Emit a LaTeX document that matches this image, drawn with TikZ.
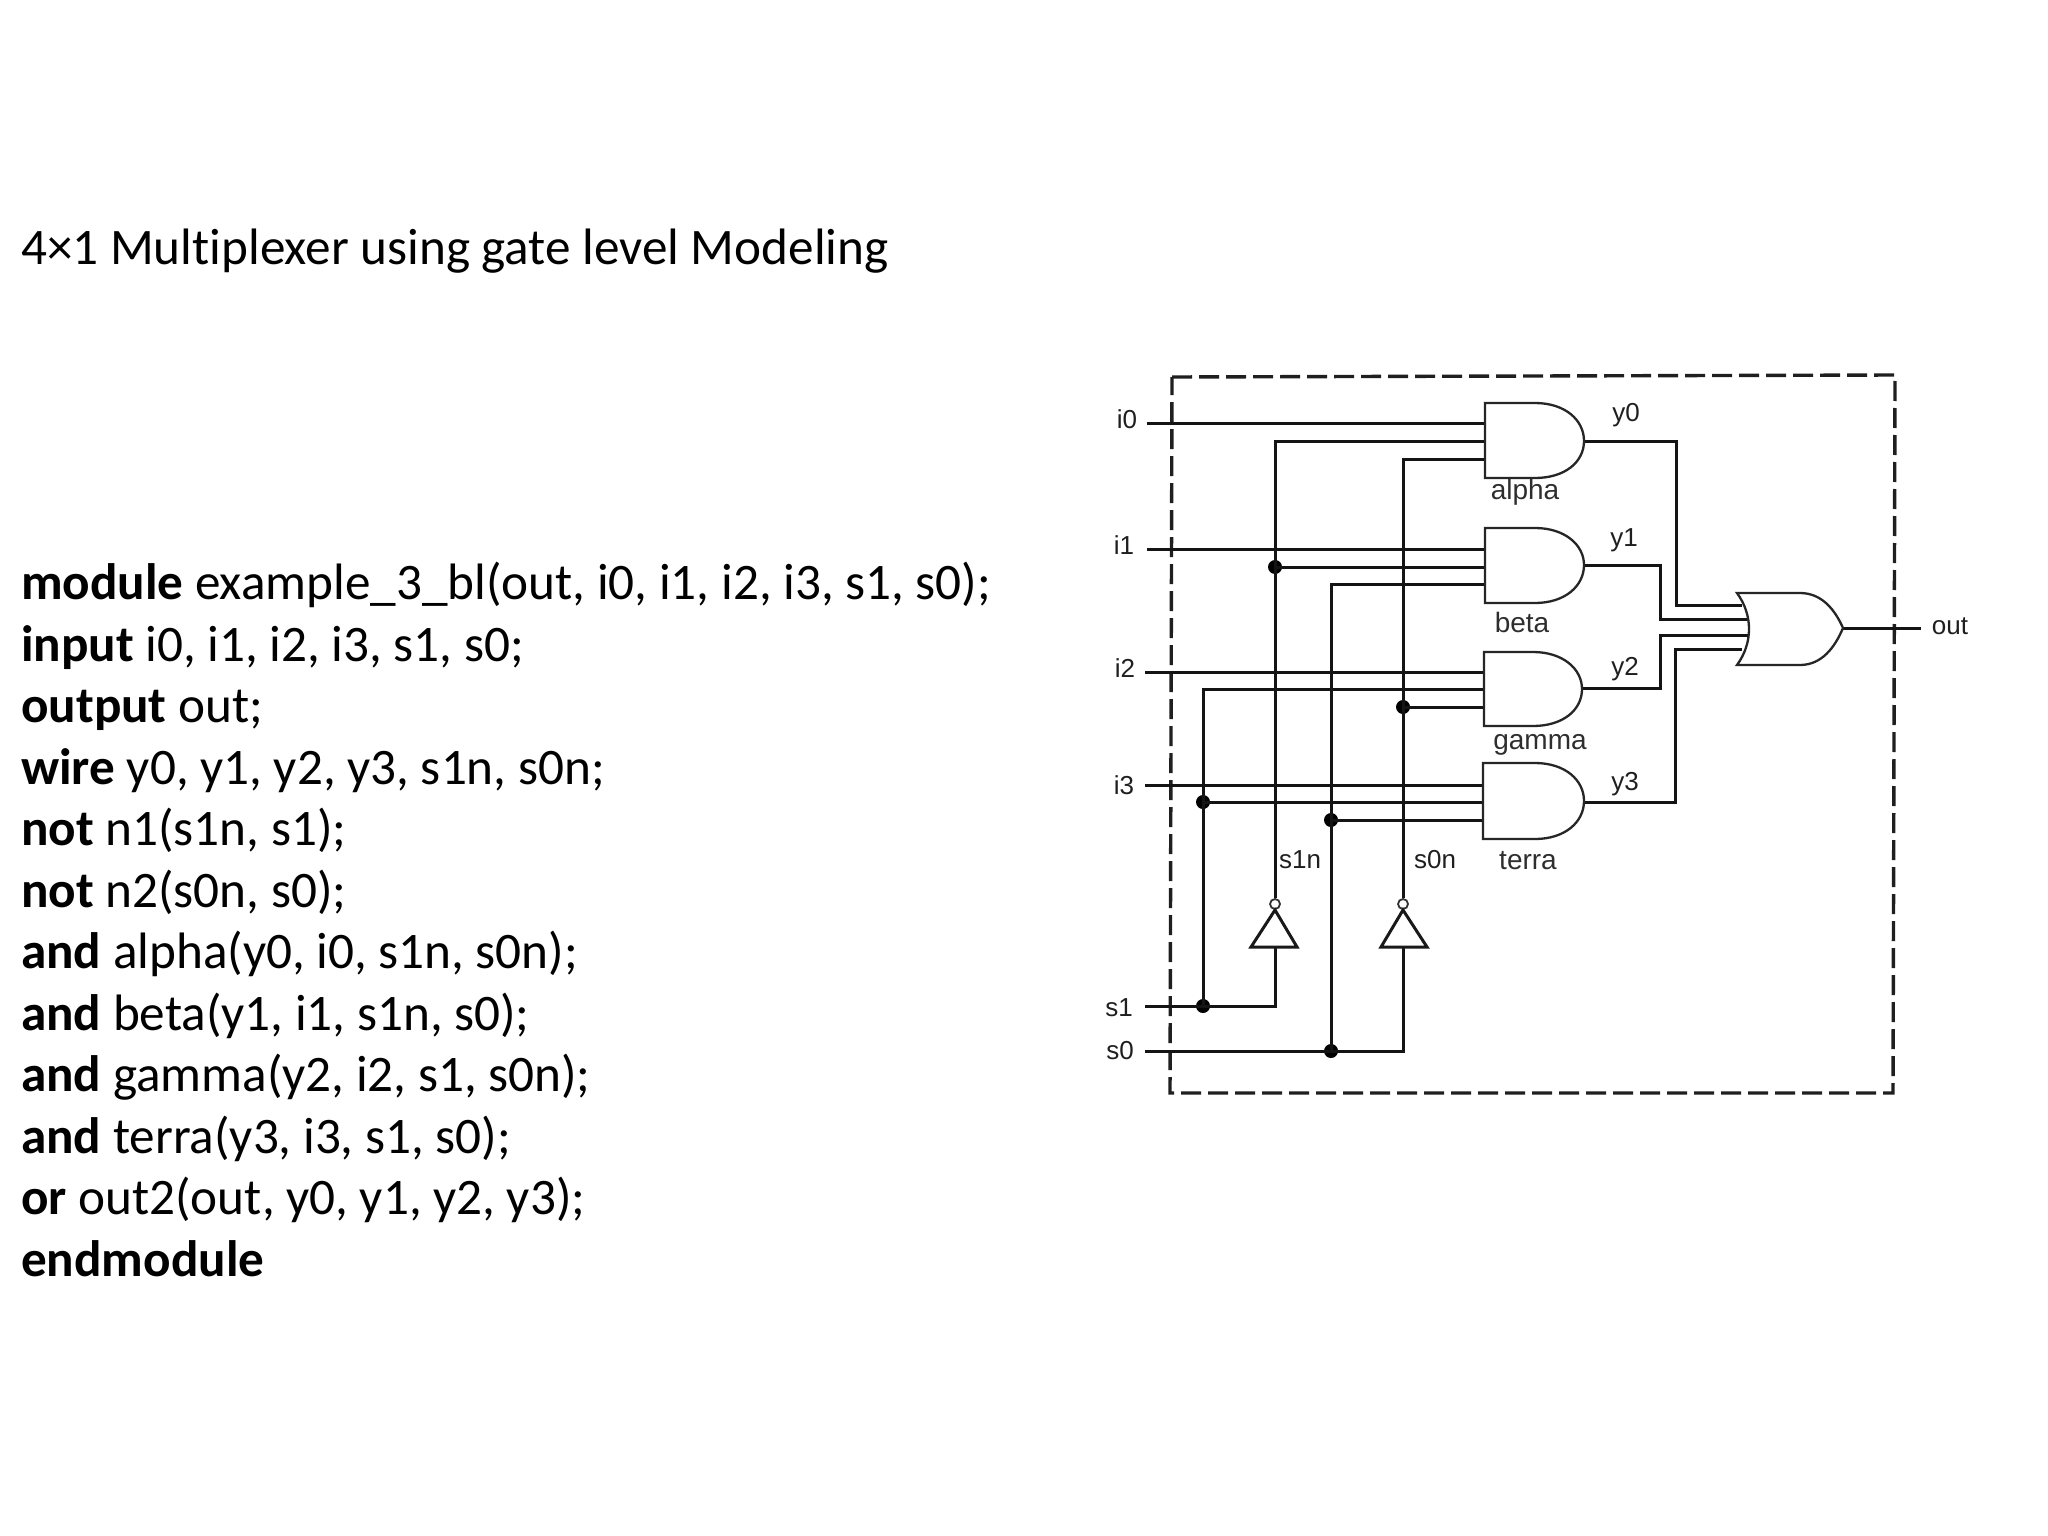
\documentclass[tikz,border=0pt]{standalone}
\usepackage{fontspec}
\setmainfont{Carlito}[Ligatures=NoCommon]
\newfontfamily\lblfont{Liberation Sans}
\begin{document}
\begin{tikzpicture}[x=1pt,y=-1pt,
  wire/.style={draw=black!92,line width=3pt,line join=miter},
  gateshape/.style={draw=black!85,line width=2.3pt,fill=white,line join=miter},
  invshape/.style={draw=black!90,line width=3pt,fill=white,line join=miter},
  boxline/.style={draw=black!88,line width=3.4pt,dash pattern=on 20pt off 7pt},
  junction/.style={circle,fill=black,inner sep=0pt,minimum size=14pt},
  bubble/.style={circle,draw=black!80,line width=1.8pt,fill=white,inner sep=0pt,minimum size=10pt},
  lbl/.style={inner sep=0pt,font=\lblfont\fontsize{26}{30}\selectfont,text=black!88},
  gname/.style={inner sep=0pt,font=\lblfont\fontsize{28}{32}\selectfont,text=black!82},
  codeline/.style={anchor=base west,inner sep=0pt,font=\fontsize{51.2}{62}\selectfont,text=black},
]
\useasboundingbox (0,0) rectangle (2048,1536);
% text
\node[codeline] (title) at (21,264) {4×1 Multiplexer using gate level Modeling};
\node[codeline] (c1) at (21,599) {\textbf{module} example\_3\_bl(out, i0, i1, i2, i3, s1, s0);};
\node[codeline] (c2) at (21,661) {\textbf{input} i0, i1, i2, i3, s1, s0;};
\node[codeline] (c3) at (21,722) {\textbf{output} out;};
\node[codeline] (c4) at (21,784) {\textbf{wire} y0, y1, y2, y3, s1n, s0n;};
\node[codeline] (c5) at (21,845) {\textbf{not} n1(s1n, s1);};
\node[codeline] (c6) at (21,907) {\textbf{not} n2(s0n, s0);};
\node[codeline] (c7) at (21,968) {\textbf{and} alpha(y0, i0, s1n, s0n);};
\node[codeline] (c8) at (21,1030) {\textbf{and} beta(y1, i1, s1n, s0);};
\node[codeline] (c9) at (21,1091) {\textbf{and} gamma(y2, i2, s1, s0n);};
\node[codeline] (c10) at (21,1153) {\textbf{and} terra(y3, i3, s1, s0);};
\node[codeline] (c11) at (21,1214) {\textbf{or} out2(out, y0, y1, y2, y3);};
\node[codeline] (c12) at (21,1276) {\textbf{endmodule}};
% dashed module box
\coordinate (tl) at (1172,377);
\coordinate (tr) at (1895,375);
\coordinate (br) at (1893,1093);
\coordinate (bl) at (1170,1093);
\draw[boxline] (tl) -- (tr) -- (br) -- (bl) -- cycle;
% pins
\foreach \n/\yy in {a1/423,a2/441,a3/459,b1/549,b2/567,b3/584,g1/672,g2/689,g3/707,t1/785,t2/802,t3/820}
  \coordinate (\n) at (1485,\yy);
\coordinate (ya) at (1584,441);
\coordinate (yb) at (1584,565);
\coordinate (yg) at (1582,688);
\coordinate (yt) at (1584,802);
\coordinate (or1) at (1742,605);
\coordinate (or2) at (1748,619);
\coordinate (or3) at (1748,635);
\coordinate (or4) at (1742,649);
\coordinate (orout) at (1843,628);
% free ends
\coordinate (i0) at (1147,423);
\coordinate (i1) at (1147,549);
\coordinate (i2) at (1145,672);
\coordinate (i3) at (1145,785);
\coordinate (s1) at (1145,1006);
\coordinate (s0) at (1145,1051);
\coordinate (outend) at (1921,628);
% junctions
\node[junction] (j1) at (1275,567) {};
\node[junction] (j2) at (1403,707) {};
\node[junction] (j3) at (1203,802) {};
\node[junction] (j4) at (1331,820) {};
\node[junction] (j5) at (1203,1006) {};
\node[junction] (j6) at (1331,1051) {};
% inverter points
\coordinate (n1in) at (1275,947);
\coordinate (n2in) at (1403,947);
\node[bubble] (n1o) at (1275,904) {};
\node[bubble] (n2o) at (1403,904) {};
% input wires
\draw[wire] (i0) -- (a1);
\draw[wire] (i1) -- (b1);
\draw[wire] (i2) -- (g1);
\draw[wire] (i3) -- (t1);
% s1n
\draw[wire] (n1o.north) -- (1275,441) -- (a2);
\draw[wire] (j1.center) -- (b2);
% s0n
\draw[wire] (n2o.north) -- (1403,459) -- (a3);
\draw[wire] (j2.center) -- (g3);
% s1
\draw[wire] (s1) -- (j5.center) -- (1275,1006) -- (n1in);
\draw[wire] (j5.center) -- (1203,689) -- (g2);
\draw[wire] (j3.center) -- (t2);
% s0
\draw[wire] (s0) -- (j6.center) -- (1403,1051) -- (n2in);
\draw[wire] (j6.center) -- (1331,584) -- (b3);
\draw[wire] (j4.center) -- (t3);
% outputs
\draw[wire] (ya) -- (1676,441) -- (1676,605) -- (or1);
\draw[wire] (yb) -- (1660,565) -- (1660,619) -- (or2);
\draw[wire] (yg) -- (1660,688) -- (1660,635) -- (or3);
\draw[wire] (yt) -- (1675,802) -- (1675,649) -- (or4);
\draw[wire] (orout) -- (outend);
% AND gates
\path[gateshape] (1485,403) -- (1535,403) .. controls (1565,403) and (1584,420) .. (1584,441) .. controls (1584,462) and (1565,478) .. (1535,478) -- (1485,478) -- cycle;
\path[gateshape] (1485,528) -- (1535,528) .. controls (1565,528) and (1584,545) .. (1584,565) .. controls (1584,586) and (1565,603) .. (1535,603) -- (1485,603) -- cycle;
\path[gateshape] (1484,652) -- (1533,652) .. controls (1563,652) and (1582,669) .. (1582,689) .. controls (1582,710) and (1563,726) .. (1533,726) -- (1484,726) -- cycle;
\path[gateshape] (1483,763) -- (1535,763) .. controls (1565,763) and (1584,780) .. (1584,801) .. controls (1584,822) and (1565,839) .. (1535,839) -- (1483,839) -- cycle;
% OR gate
\path[gateshape] (1737,593) -- (1800,593) .. controls (1822,593) and (1835,610) .. (1843,628) .. controls (1835,647) and (1822,665) .. (1800,665) -- (1737,665) .. controls (1753,643) and (1753,615) .. (1737,593) -- cycle;
% inverters
\path[invshape] (1275,910) -- (1297,947) -- (1251,947) -- cycle;
\path[invshape] (1403,910) -- (1427,947) -- (1381,947) -- cycle;
% labels
\node[lbl] (li0) at (1127,419) {i0};
\node[lbl] (li1) at (1124,545) {i1};
\node[lbl] (li2) at (1125,668) {i2};
\node[lbl] (li3) at (1124,785) {i3};
\node[lbl] (ls1) at (1119,1008) {s1};
\node[lbl] (ls0) at (1120,1051) {s0};
\node[lbl] (ly0) at (1626,415) {y0};
\node[lbl] (ly1) at (1624,540) {y1};
\node[lbl] (ly2) at (1625,669) {y2};
\node[lbl] (ly3) at (1625,784) {y3};
\node[lbl] (lout) at (1950,626) {out};
\node[lbl] (ls1n) at (1300,860) {s1n};
\node[lbl] (ls0n) at (1435,860) {s0n};
\node[gname] (alpha) at (1525,492) {alpha};
\node[gname] (beta) at (1522,622) {beta};
\node[gname] (gamma) at (1540,745) {gamma};
\node[gname] (terra) at (1528,861) {terra};
\end{tikzpicture}
\end{document}
